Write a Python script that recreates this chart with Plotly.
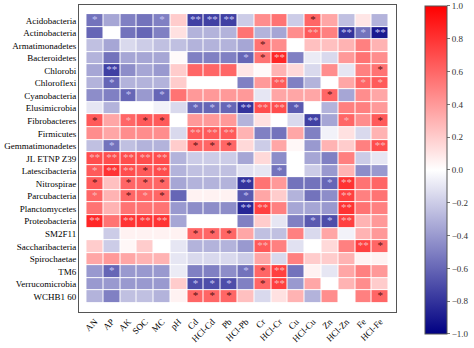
import plotly.graph_objects as go

# Bacterial phyla (rows) and soil / metal factors (columns)
taxa = [
    "Acidobacteria", "Actinobacteria", "Armatimonadetes", "Bacteroidetes",
    "Chlorobi", "Chloroflexi", "Cyanobacteria", "Elusimicrobia",
    "Fibrobacteres", "Firmicutes", "Gemmatimonadetes", "JL ETNP Z39",
    "Latescibacteria", "Nitrospirae", "Parcubacteria", "Planctomycetes",
    "Proteobacteria", "SM2F11", "Saccharibacteria", "Spirochaetae",
    "TM6", "Verrucomicrobia", "WCHB1 60",
]
factors = [
    "AN", "AP", "AK", "SOC", "MC", "pH", "Cd", "HCl-Cd", "Pb", "HCl-Pb",
    "Cr", "HCl-Cr", "Cu", "HCl-Cu", "Zn", "HCl-Zn", "Fe", "HCl-Fe",
]

# Correlation coefficients (rows follow taxa, columns follow factors)
r_acido   = [-0.55, -0.35, -0.50, -0.55, -0.50, 0.20, -0.75, -0.75, -0.75, -0.20, 0.45, 0.55, -0.20, 0.60, 0.35, -0.25, 0.10, -0.30]
r_actino  = [-0.60, 0.00, -0.55, -0.60, -0.50, 0.12, -0.30, -0.30, -0.30, 0.55, -0.30, -0.35, 0.45, 0.65, 0.50, -0.80, -0.55, -0.90]
r_armat   = [-0.25, -0.35, -0.15, -0.20, -0.25, -0.25, -0.30, -0.30, -0.30, -0.35, 0.55, 0.45, 0.00, 0.25, 0.25, 0.30, 0.50, 0.30]
r_bacter  = [-0.30, -0.55, -0.35, -0.35, -0.35, 0.02, -0.50, -0.50, -0.50, -0.60, 0.55, 0.85, -0.50, -0.08, -0.15, 0.40, 0.55, 0.45]
r_chlorob = [-0.35, -0.75, -0.45, -0.35, -0.40, 0.20, 0.60, 0.60, 0.60, 0.10, 0.02, 0.30, 0.15, -0.15, 0.45, -0.10, 0.50, 0.55]
r_chlorof = [-0.30, -0.60, -0.30, -0.30, -0.30, 0.20, 0.00, 0.00, 0.00, -0.50, 0.40, 0.65, -0.50, -0.30, 0.00, 0.35, 0.60, 0.65]
r_cyano   = [-0.45, -0.50, -0.60, -0.40, -0.60, 0.55, 0.40, 0.40, 0.40, 0.40, -0.10, 0.35, 0.35, 0.35, 0.60, -0.35, 0.45, 0.35]
r_elusi   = [-0.10, -0.30, 0.00, 0.00, -0.05, -0.15, -0.60, -0.60, -0.60, -0.80, 0.70, 0.70, -0.65, 0.00, -0.30, 0.50, 0.50, 0.40]
r_fibro   = [0.65, 0.35, 0.60, 0.65, 0.65, 0.00, 0.40, 0.40, 0.40, -0.30, 0.12, 0.00, -0.15, -0.75, -0.35, 0.60, 0.45, 0.65]
r_firmi   = [0.45, 0.35, 0.45, 0.45, 0.45, -0.15, 0.65, 0.65, 0.65, 0.30, -0.50, -0.55, 0.35, -0.50, -0.05, 0.12, -0.15, 0.30]
r_gemma   = [-0.25, -0.55, -0.25, -0.30, -0.30, 0.20, 0.60, 0.60, 0.60, 0.15, -0.20, 0.35, 0.03, -0.40, 0.30, 0.20, 0.50, 0.70]
r_jletnp  = [0.70, 0.70, 0.70, 0.70, 0.70, -0.30, -0.20, -0.20, -0.20, -0.35, 0.15, -0.45, 0.00, -0.35, -0.50, 0.50, -0.20, -0.10]
r_latesc  = [0.65, 0.80, 0.70, 0.65, 0.70, -0.30, -0.25, -0.25, -0.25, -0.12, -0.10, -0.55, 0.00, -0.20, -0.40, 0.30, -0.45, -0.40]
r_nitro   = [0.65, 0.25, 0.60, 0.60, 0.60, -0.35, -0.30, -0.30, -0.30, -0.80, 0.55, 0.40, -0.55, -0.55, -0.60, 0.80, 0.55, 0.60]
r_parcu   = [0.60, 0.30, 0.60, 0.60, 0.60, -0.60, 0.05, 0.05, 0.05, -0.65, 0.35, 0.20, -0.30, -0.55, -0.45, 0.75, 0.50, 0.55]
r_plancto = [0.55, 0.30, 0.55, 0.55, 0.55, -0.40, -0.45, -0.45, -0.45, -0.85, 0.75, 0.50, -0.35, -0.35, -0.40, 0.80, 0.55, 0.50]
r_proteo  = [0.85, 0.55, 0.80, 0.80, 0.80, -0.35, 0.00, 0.00, 0.00, -0.50, 0.20, -0.10, -0.50, -0.65, -0.70, 0.75, 0.30, 0.40]
r_sm2f11  = [0.00, -0.20, 0.05, 0.05, 0.05, 0.05, 0.60, 0.60, 0.60, 0.35, -0.25, -0.25, 0.50, -0.15, 0.35, -0.05, 0.30, 0.40]
r_saccha  = [0.20, -0.20, 0.03, 0.20, 0.00, -0.10, -0.30, -0.30, -0.30, -0.40, 0.65, 0.50, -0.12, 0.00, 0.15, 0.50, 0.75, 0.60]
r_spiro   = [0.35, 0.40, 0.35, 0.30, 0.30, -0.10, -0.15, -0.15, -0.15, -0.20, 0.35, -0.15, 0.50, 0.20, 0.20, 0.30, 0.05, 0.05]
r_tm6     = [-0.40, -0.60, -0.40, -0.40, -0.40, -0.08, -0.50, -0.50, -0.45, -0.55, 0.60, 0.75, -0.55, 0.05, -0.10, 0.35, 0.50, 0.40]
r_verruco = [-0.40, -0.40, -0.40, -0.40, -0.40, 0.20, -0.70, -0.70, -0.70, -0.50, 0.60, 0.75, -0.40, 0.35, 0.00, 0.30, 0.45, 0.20]
r_wchb1   = [-0.30, -0.50, -0.25, -0.25, -0.30, 0.05, 0.60, 0.60, 0.60, 0.25, -0.15, 0.12, 0.30, -0.30, 0.45, 0.00, 0.50, 0.60]

corr = [
    r_acido, r_actino, r_armat, r_bacter, r_chlorob, r_chlorof, r_cyano,
    r_elusi, r_fibro, r_firmi, r_gemma, r_jletnp, r_latesc, r_nitro,
    r_parcu, r_plancto, r_proteo, r_sm2f11, r_saccha, r_spiro, r_tm6,
    r_verruco, r_wchb1,
]

# Significance marks: "*" p<0.05, "**" p<0.01 (taxon, factor, mark)
signif = [
    ("Acidobacteria", "AN", "*"), ("Acidobacteria", "MC", "*"),
    ("Acidobacteria", "Cd", "**"), ("Acidobacteria", "HCl-Cd", "**"),
    ("Acidobacteria", "Pb", "**"), ("Acidobacteria", "HCl-Cu", "*"),
    ("Actinobacteria", "HCl-Cu", "**"), ("Actinobacteria", "HCl-Zn", "**"),
    ("Actinobacteria", "Fe", "*"), ("Actinobacteria", "HCl-Fe", "**"),
    ("Armatimonadetes", "Cr", "*"),
    ("Bacteroidetes", "HCl-Pb", "*"), ("Bacteroidetes", "Cr", "*"),
    ("Bacteroidetes", "HCl-Cr", "**"),
    ("Chlorobi", "AP", "**"), ("Chlorobi", "HCl-Fe", "*"),
    ("Chloroflexi", "AP", "*"), ("Chloroflexi", "HCl-Cr", "**"),
    ("Chloroflexi", "Fe", "*"), ("Chloroflexi", "HCl-Fe", "*"),
    ("Cyanobacteria", "AK", "*"), ("Cyanobacteria", "MC", "*"),
    ("Cyanobacteria", "Zn", "*"),
    ("Elusimicrobia", "Cd", "*"), ("Elusimicrobia", "HCl-Cd", "*"),
    ("Elusimicrobia", "Pb", "*"), ("Elusimicrobia", "HCl-Pb", "**"),
    ("Elusimicrobia", "Cr", "**"), ("Elusimicrobia", "HCl-Cr", "**"),
    ("Elusimicrobia", "Cu", "*"),
    ("Fibrobacteres", "AN", "*"), ("Fibrobacteres", "AK", "*"),
    ("Fibrobacteres", "SOC", "*"), ("Fibrobacteres", "MC", "*"),
    ("Fibrobacteres", "HCl-Cu", "**"), ("Fibrobacteres", "HCl-Zn", "*"),
    ("Fibrobacteres", "HCl-Fe", "*"),
    ("Firmicutes", "Cd", "**"), ("Firmicutes", "HCl-Cd", "**"),
    ("Firmicutes", "Pb", "**"),
    ("Gemmatimonadetes", "AP", "*"), ("Gemmatimonadetes", "Cd", "*"),
    ("Gemmatimonadetes", "HCl-Cd", "*"), ("Gemmatimonadetes", "Pb", "*"),
    ("Gemmatimonadetes", "HCl-Fe", "**"),
    ("JL ETNP Z39", "AN", "**"), ("JL ETNP Z39", "AP", "**"),
    ("JL ETNP Z39", "AK", "**"), ("JL ETNP Z39", "SOC", "**"),
    ("JL ETNP Z39", "MC", "**"),
    ("Latescibacteria", "AN", "*"), ("Latescibacteria", "AP", "**"),
    ("Latescibacteria", "AK", "**"), ("Latescibacteria", "SOC", "*"),
    ("Latescibacteria", "MC", "**"), ("Latescibacteria", "HCl-Cr", "*"),
    ("Nitrospirae", "AN", "*"), ("Nitrospirae", "AK", "*"),
    ("Nitrospirae", "SOC", "*"), ("Nitrospirae", "MC", "*"),
    ("Nitrospirae", "HCl-Pb", "**"), ("Nitrospirae", "Zn", "*"),
    ("Nitrospirae", "HCl-Zn", "**"),
    ("Parcubacteria", "AN", "*"), ("Parcubacteria", "AK", "*"),
    ("Parcubacteria", "SOC", "*"), ("Parcubacteria", "MC", "*"),
    ("Parcubacteria", "HCl-Pb", "*"), ("Parcubacteria", "HCl-Zn", "**"),
    ("Planctomycetes", "HCl-Pb", "**"), ("Planctomycetes", "Cr", "**"),
    ("Planctomycetes", "HCl-Zn", "**"),
    ("Proteobacteria", "AN", "**"), ("Proteobacteria", "AK", "**"),
    ("Proteobacteria", "SOC", "**"), ("Proteobacteria", "MC", "**"),
    ("Proteobacteria", "HCl-Cu", "*"), ("Proteobacteria", "Zn", "*"),
    ("Proteobacteria", "HCl-Zn", "**"),
    ("SM2F11", "Cd", "*"), ("SM2F11", "HCl-Cd", "*"), ("SM2F11", "Pb", "*"),
    ("Saccharibacteria", "Cr", "**"), ("Saccharibacteria", "Fe", "**"),
    ("Saccharibacteria", "HCl-Fe", "*"),
    ("TM6", "AP", "*"), ("TM6", "HCl-Pb", "*"), ("TM6", "Cr", "*"),
    ("TM6", "HCl-Cr", "**"),
    ("Verrucomicrobia", "Cd", "*"), ("Verrucomicrobia", "HCl-Cd", "*"),
    ("Verrucomicrobia", "Pb", "*"), ("Verrucomicrobia", "Cr", "*"),
    ("Verrucomicrobia", "HCl-Cr", "**"),
    ("WCHB1 60", "Cd", "*"), ("WCHB1 60", "HCl-Cd", "*"),
    ("WCHB1 60", "Pb", "*"), ("WCHB1 60", "HCl-Fe", "*"),
]

# Single-star marks on red cells that are drawn in the pale tone
pale_single = {
    ("Fibrobacteres", "AK"), ("Latescibacteria", "AN"),
    ("Parcubacteria", "AN"), ("Parcubacteria", "SOC"),
    ("Chloroflexi", "Fe"), ("Chloroflexi", "HCl-Fe"),
    ("Fibrobacteres", "HCl-Zn"),
}

SERIF = "Liberation Serif, Times New Roman, serif"

colorscale = [
    [0.00, "rgb(0,0,130)"],
    [0.25, "rgb(128,128,195)"],
    [0.50, "rgb(255,255,255)"],
    [0.75, "rgb(255,128,128)"],
    [1.00, "rgb(255,0,0)"],
]

fig = go.Figure()
fig.add_trace(go.Heatmap(
    z=corr, x=factors, y=taxa, zmin=-1, zmax=1,
    colorscale=colorscale, xgap=1, ygap=1, hoverongaps=False,
    colorbar=dict(
        x=1.093, xanchor="left", y=0.9968, yanchor="top",
        lenmode="pixels", len=328, thickness=22, thicknessmode="pixels",
        xpad=0, ypad=0, outlinewidth=1, outlinecolor="#555",
        tickmode="array",
        tickvals=[1.0, 0.8, 0.6, 0.4, 0.2, 0.0, -0.2, -0.4, -0.6, -0.8, -1.0],
        tickformat=".1f", ticks="outside", ticklen=3, tickcolor="#777",
        tickfont=dict(family=SERIF, size=9, color="#333"),
    ),
))

# Significance marks grouped by tone
lookup = {(t, f): corr[i][j] for i, t in enumerate(taxa) for j, f in enumerate(factors)}
groups = {"blue": [], "pink": [], "dark": []}
for t, f, mark in signif:
    v = lookup[(t, f)]
    if v < 0:
        groups["blue"].append((t, f, mark))
    elif mark == "**" or (t, f) in pale_single:
        groups["pink"].append((t, f, mark))
    else:
        groups["dark"].append((t, f, mark))

tones = {"blue": "#c4c4f2", "pink": "#f7b8b8", "dark": "#5a1414"}
for key, items in groups.items():
    fig.add_trace(go.Scatter(
        x=[it[1] for it in items], y=[it[0] for it in items],
        text=[it[2] for it in items], mode="text",
        textposition="middle center",
        textfont=dict(family=SERIF, size=11, color=tones[key]),
        hoverinfo="skip", showlegend=False,
    ))

fig.update_layout(
    width=474, height=348,
    margin=dict(l=75, r=77, t=4, b=35),
    paper_bgcolor="white", plot_bgcolor="white",
    showlegend=False,
)
fig.update_xaxes(
    type="category", categoryorder="array", categoryarray=factors,
    tickangle=-45, tickfont=dict(family=SERIF, size=9, color="black"),
    showgrid=False, zeroline=False, showline=True, mirror=True,
    linecolor="#555", linewidth=1, ticks="",
)
fig.update_yaxes(
    type="category", categoryorder="array", categoryarray=taxa,
    autorange="reversed", tickfont=dict(family=SERIF, size=9, color="black"),
    showgrid=False, zeroline=False, showline=True, mirror=True,
    linecolor="#555", linewidth=1, ticks="",
)

fig.write_html("out.html")
